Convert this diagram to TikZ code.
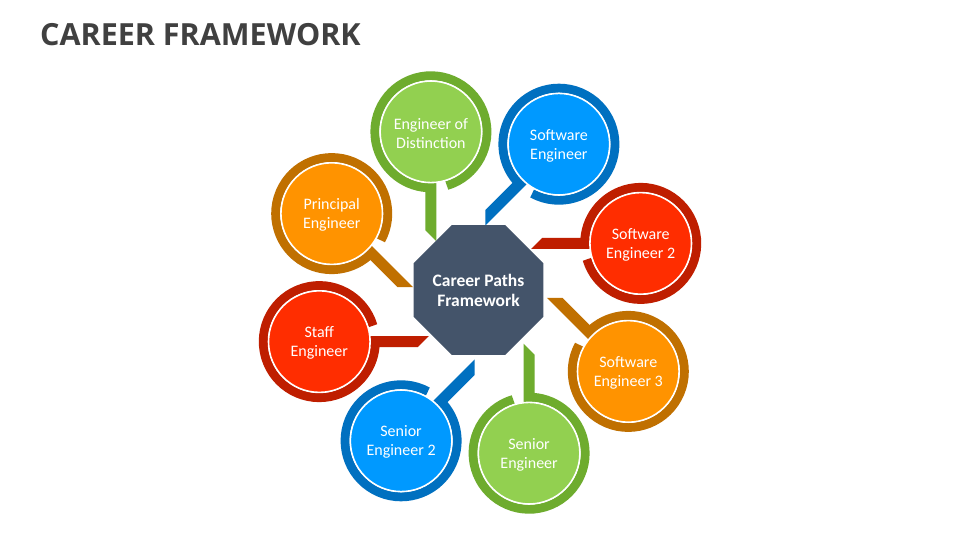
\documentclass[tikz,border=0pt]{standalone}
\usepackage{fontspec}
\setmainfont{Carlito}
\newfontfamily\titlefont{Open Sans}
\usetikzlibrary{shapes.geometric}
\definecolor{gfill}{HTML}{92D050}
\definecolor{gring}{HTML}{6EAC2E}
\definecolor{bfill}{HTML}{0099FF}
\definecolor{bring}{HTML}{0070C0}
\definecolor{rfill}{HTML}{FF2D00}
\definecolor{rring}{HTML}{BF1E00}
\definecolor{ofill}{HTML}{FF9300}
\definecolor{oring}{HTML}{C07000}
\definecolor{octa}{HTML}{44546A}
\definecolor{titlegray}{HTML}{404040}
\tikzset{
  lbl/.style={text=white, font=\fontsize{16}{19}\selectfont, align=center, inner sep=0pt, yshift=-1.5pt},
}
\newcommand\mybubble[5]{%
  \begin{scope}[shift={(#1,-#2)}, rotate=#3]
    \draw[#4, line width=9pt] (-73.5:56) arc[start angle=-73.5, end angle=270, radius=56];
    \fill[#4] (-5.5,-50) -- (5.5,-50) -- (5.5,-109.5) -- (-5.5,-98.5) -- cycle;
    \fill[#5, draw=white, line width=1.6pt] (0,0) circle[radius=50.8];
  \end{scope}}
\begin{document}
\begin{tikzpicture}[x=1pt,y=1pt]
\useasboundingbox (0,0) rectangle (960,-540);
\fill[white] (0,0) rectangle (960,-540);
\node[anchor=base west, text=titlegray, inner sep=0pt, font=\titlefont\bfseries\fontsize{30.5}{34}\selectfont] (title) at (40,-45.5) {CAREER FRAMEWORK};

\mybubble{430.9}{131.8}{0}{gring}{gfill}
\mybubble{558.9}{144.2}{-45}{bring}{bfill}
\mybubble{640.7}{243.4}{-90}{rring}{rfill}
\mybubble{628.3}{371.4}{-135}{oring}{ofill}
\mybubble{529.1}{453.2}{-180}{gring}{gfill}
\mybubble{401.1}{440.8}{-225}{bring}{bfill}
\mybubble{319.3}{341.6}{-270}{rring}{rfill}
\mybubble{331.7}{213.6}{-315}{oring}{ofill}

\node[lbl] (t0) at (430.9,-131.8) {Engineer of\\Distinction};
\node[lbl] (t1) at (558.9,-144.2) {Software\\Engineer};
\node[lbl] (t2) at (640.7,-243.4) {Software\\Engineer 2};
\node[lbl] (t3) at (628.3,-371.4) {Software\\Engineer 3};
\node[lbl] (t4) at (529.1,-453.2) {Senior\\Engineer};
\node[lbl] (t5) at (401.1,-440.8) {Senior\\Engineer 2};
\node[lbl] (t6) at (319.3,-341.6) {Staff\\Engineer};
\node[lbl] (t7) at (331.7,-213.6) {Principal\\Engineer};

\node[regular polygon, regular polygon sides=8, minimum size=136.4pt, inner sep=0pt, fill=octa, text=white, align=center, font=\bfseries\fontsize{17.5}{20}\selectfont] (hub) at (478.5,-290) {Career Paths\\Framework};
\end{tikzpicture}
\end{document}
